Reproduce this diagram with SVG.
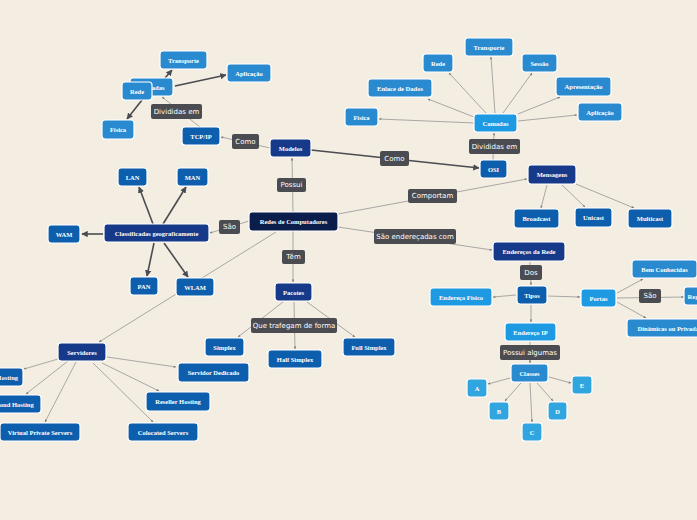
<svg xmlns="http://www.w3.org/2000/svg" width="697" height="520" viewBox="0 0 697 520">
<style>
.n rect{stroke:#fff;stroke-width:1.2;rx:3}
.n text{font-family:"Liberation Serif",serif;font-weight:bold;font-size:6.5px;fill:#fff;text-anchor:middle;dominant-baseline:central}
.d0 rect{fill:#0b1d4a}.d1 rect{fill:#16398a}.d2 rect{fill:#0d5fae}.d3 rect{fill:#2a8ad0}.d4 rect{fill:#1e9ae2}.d5 rect{fill:#31a5df}
.l rect{fill:#4b4c51;rx:2}
.l text{font-family:"DejaVu Sans",sans-serif;font-size:7px;fill:#fff;text-anchor:middle;dominant-baseline:central}
.e line{stroke:#8a8a8a;stroke-width:0.7;marker-end:url(#a)}
.e line.b{stroke:#4b4c51;stroke-width:1.6;marker-end:url(#ab)}
</style>
<defs>
<marker id="a" viewBox="0 0 10 10" refX="9" refY="5" markerWidth="4" markerHeight="4" orient="auto"><path d="M0,1L10,5L0,9z" fill="#777"/></marker>
<marker id="ab" viewBox="0 0 10 10" refX="9" refY="5" markerWidth="4" markerHeight="4" orient="auto"><path d="M0,0L10,5L0,10z" fill="#4b4c51"/></marker>
</defs>
<rect width="697" height="520" fill="#f3ede2"/>
<g class="e" id="connectors">
<line x1="293" y1="212" x2="292" y2="158"/>
<line x1="270" y1="148" x2="221" y2="137"/>
<line x1="311" y1="150" x2="479" y2="168" class="b"/>
<line x1="200" y1="127" x2="162" y2="97"/>
<line x1="175" y1="86" x2="226" y2="75" class="b"/>
<line x1="165" y1="78" x2="172" y2="70" class="b"/>
<line x1="142" y1="100" x2="127" y2="119" class="b"/>
<line x1="249" y1="221" x2="210" y2="233"/>
<line x1="153" y1="224" x2="139" y2="187" class="b"/>
<line x1="163" y1="224" x2="186" y2="187" class="b"/>
<line x1="103" y1="234" x2="82" y2="234" class="b"/>
<line x1="154" y1="243" x2="147" y2="276" class="b"/>
<line x1="164" y1="243" x2="188" y2="277" class="b"/>
<line x1="293" y1="231" x2="293" y2="282"/>
<line x1="276" y1="232" x2="99" y2="342"/>
<line x1="338" y1="214" x2="527" y2="179"/>
<line x1="338" y1="227" x2="492" y2="250"/>
<line x1="493" y1="160" x2="494" y2="133"/>
<line x1="475" y1="123" x2="379" y2="119"/>
<line x1="474" y1="117" x2="428" y2="99"/>
<line x1="486" y1="113" x2="449" y2="73"/>
<line x1="495" y1="113" x2="491" y2="57"/>
<line x1="503" y1="113" x2="532" y2="73"/>
<line x1="518" y1="114" x2="560" y2="97"/>
<line x1="518" y1="121" x2="577" y2="115"/>
<line x1="547" y1="185" x2="541" y2="208"/>
<line x1="562" y1="185" x2="585" y2="207"/>
<line x1="576" y1="184" x2="634" y2="208"/>
<line x1="530" y1="262" x2="531" y2="285"/>
<line x1="516" y1="295" x2="493" y2="297"/>
<line x1="548" y1="296" x2="580" y2="297"/>
<line x1="531" y1="305" x2="531" y2="322"/>
<line x1="617" y1="293" x2="643" y2="279"/>
<line x1="617" y1="298" x2="684" y2="297"/>
<line x1="617" y1="302" x2="646" y2="318"/>
<line x1="530" y1="342" x2="530" y2="363"/>
<line x1="510" y1="378" x2="488" y2="384"/>
<line x1="521" y1="383" x2="505" y2="401"/>
<line x1="530" y1="383" x2="532" y2="422"/>
<line x1="537" y1="383" x2="553" y2="401"/>
<line x1="549" y1="377" x2="571" y2="383"/>
<line x1="283" y1="302" x2="238" y2="337"/>
<line x1="294" y1="302" x2="295" y2="349"/>
<line x1="307" y1="302" x2="355" y2="337"/>
<line x1="58" y1="359" x2="24" y2="369"/>
<line x1="68" y1="361" x2="26" y2="394"/>
<line x1="76" y1="362" x2="45" y2="422"/>
<line x1="93" y1="363" x2="153" y2="422"/>
<line x1="102" y1="363" x2="159" y2="391"/>
<line x1="107" y1="357" x2="176" y2="367"/>
</g>
<g class="l">
<g id="l1"><rect x="232" y="134" width="27" height="15"/><text x="245.5" y="141.5">Como</text></g>
<g id="l2"><rect x="151" y="104" width="51" height="15"/><text x="176.5" y="111.5">Divididas em</text></g>
<g id="l3"><rect x="277" y="178" width="29" height="14"/><text x="291.5" y="185">Possui</text></g>
<g id="l4"><rect x="219" y="220" width="21" height="14"/><text x="229.5" y="227">São</text></g>
<g id="l5"><rect x="282" y="250" width="23" height="14"/><text x="293.5" y="257">Têm</text></g>
<g id="l6"><rect x="380" y="151" width="29" height="15"/><text x="394.5" y="158.5">Como</text></g>
<g id="l7"><rect x="469" y="139" width="51" height="15"/><text x="494.5" y="146.5">Divididas em</text></g>
<g id="l8"><rect x="408" y="189" width="49" height="14"/><text x="432.5" y="196">Comportam</text></g>
<g id="l9"><rect x="374" y="229" width="82" height="15"/><text x="415" y="236.5">São endereçadas com</text></g>
<g id="l10"><rect x="520" y="265" width="22" height="15"/><text x="531" y="272.5">Dos</text></g>
<g id="l11"><rect x="639" y="289" width="22" height="14"/><text x="650" y="296">São</text></g>
<g id="l12"><rect x="500" y="345" width="60" height="15"/><text x="530" y="352.5">Possui algumas</text></g>
<g id="l13"><rect x="251" y="318" width="86" height="15"/><text x="294" y="325.5">Que trafegam de forma</text></g>
</g>
<g class="n">
<g id="n1" class="d3"><rect x="130" y="78" width="43" height="18"/><text x="151.5" y="87">Camadas</text></g>
<g id="n2" class="d3"><rect x="122" y="82" width="30" height="18"/><text x="137" y="91">Rede</text></g>
<g id="n3" class="d3"><rect x="160" y="51" width="47" height="18"/><text x="183.5" y="60">Transporte</text></g>
<g id="n4" class="d3"><rect x="227" y="64" width="44" height="18"/><text x="249" y="73">Aplicação</text></g>
<g id="n5" class="d3"><rect x="102" y="120" width="32" height="19"/><text x="118" y="129.5">Física</text></g>
<g id="n6" class="d2"><rect x="182" y="127" width="38" height="18"/><text x="201" y="136">TCP/IP</text></g>
<g id="n7" class="d1"><rect x="270" y="139" width="41" height="18"/><text x="290.5" y="148">Modelos</text></g>
<g id="n8" class="d0"><rect x="249" y="212" width="89" height="19"/><text x="293.5" y="221.5">Redes de Computadores</text></g>
<g id="n9" class="d1"><rect x="104" y="224" width="105" height="18"/><text x="156.5" y="233">Classificadas geograficamente</text></g>
<g id="n10" class="d2"><rect x="118" y="168" width="29" height="18"/><text x="132.5" y="177">LAN</text></g>
<g id="n11" class="d2"><rect x="177" y="168" width="31" height="18"/><text x="192.5" y="177">MAN</text></g>
<g id="n12" class="d2"><rect x="48" y="225" width="32" height="18"/><text x="64" y="234">WAM</text></g>
<g id="n13" class="d2"><rect x="130" y="277" width="28" height="18"/><text x="144" y="286">PAN</text></g>
<g id="n14" class="d2"><rect x="176" y="278" width="38" height="18"/><text x="195" y="287">WLAM</text></g>
<g id="n15" class="d1"><rect x="275" y="283" width="37" height="18"/><text x="293.5" y="292">Pacotes</text></g>
<g id="n16" class="d2"><rect x="205" y="338" width="39" height="18"/><text x="224.5" y="347">Simplex</text></g>
<g id="n17" class="d2"><rect x="268" y="350" width="54" height="18"/><text x="295" y="359">Half Simplex</text></g>
<g id="n18" class="d2"><rect x="343" y="338" width="52" height="18"/><text x="369" y="347">Full Simplex</text></g>
<g id="n19" class="d1"><rect x="58" y="343" width="48" height="18"/><text x="82" y="352">Servidores</text></g>
<g id="n20" class="d2"><rect x="-30" y="368" width="53" height="18"/><text x="-3.5" y="377">Shared Hosting</text></g>
<g id="n21" class="d2"><rect x="-14" y="395" width="55" height="18"/><text x="13.5" y="404">Cloud Hosting</text></g>
<g id="n22" class="d2"><rect x="0" y="423" width="80" height="18"/><text x="40" y="432">Virtual Private Servers</text></g>
<g id="n23" class="d2"><rect x="128" y="423" width="70" height="18"/><text x="163" y="432">Colocated Servers</text></g>
<g id="n24" class="d2"><rect x="146" y="392" width="64" height="19"/><text x="178" y="401.5">Reseller Hosting</text></g>
<g id="n25" class="d2"><rect x="178" y="363" width="71" height="19"/><text x="213.5" y="372.5">Servidor Dedicado</text></g>
<g id="n26" class="d4"><rect x="474" y="114" width="43" height="18"/><text x="495.5" y="123">Camadas</text></g>
<g id="n27" class="d2"><rect x="480" y="160" width="27" height="18"/><text x="493.5" y="169">OSI</text></g>
<g id="n28" class="d3"><rect x="345" y="108" width="33" height="18"/><text x="361.5" y="117">Física</text></g>
<g id="n29" class="d3"><rect x="368" y="79" width="64" height="18"/><text x="400" y="88">Enlace de Dados</text></g>
<g id="n30" class="d3"><rect x="423" y="54" width="30" height="18"/><text x="438" y="63">Rede</text></g>
<g id="n31" class="d3"><rect x="465" y="38" width="48" height="18"/><text x="489" y="47">Transporte</text></g>
<g id="n32" class="d3"><rect x="522" y="54" width="35" height="18"/><text x="539.5" y="63">Sessão</text></g>
<g id="n33" class="d3"><rect x="556" y="77" width="55" height="19"/><text x="583.5" y="86.5">Apresentação</text></g>
<g id="n34" class="d3"><rect x="578" y="103" width="44" height="18"/><text x="600" y="112">Aplicação</text></g>
<g id="n35" class="d1"><rect x="528" y="165" width="48" height="19"/><text x="552" y="174.5">Mensagens</text></g>
<g id="n36" class="d2"><rect x="514" y="209" width="45" height="19"/><text x="536.5" y="218.5">Broadcast</text></g>
<g id="n37" class="d2"><rect x="575" y="208" width="37" height="19"/><text x="593.5" y="217.5">Unicast</text></g>
<g id="n38" class="d2"><rect x="628" y="209" width="44" height="19"/><text x="650" y="218.5">Multicast</text></g>
<g id="n39" class="d1"><rect x="493" y="242" width="72" height="19"/><text x="529" y="251.5">Endereços da Rede</text></g>
<g id="n40" class="d2"><rect x="517" y="286" width="30" height="18"/><text x="532" y="295">Tipos</text></g>
<g id="n41" class="d4"><rect x="430" y="288" width="62" height="18"/><text x="461" y="297">Endereço Físico</text></g>
<g id="n42" class="d4"><rect x="581" y="289" width="35" height="18"/><text x="598.5" y="298">Portas</text></g>
<g id="n43" class="d3"><rect x="632" y="260" width="65" height="18"/><text x="664.5" y="269">Bem Conhecidas</text></g>
<g id="n44" class="d3"><rect x="684" y="287" width="40" height="18"/><text x="704" y="296">Registradas</text></g>
<g id="n45" class="d3"><rect x="627" y="319" width="85" height="18"/><text x="669.5" y="328">Dinâmicas ou Privadas</text></g>
<g id="n46" class="d4"><rect x="505" y="323" width="51" height="18"/><text x="530.5" y="332">Endereço IP</text></g>
<g id="n47" class="d3"><rect x="511" y="364" width="37" height="18"/><text x="529.5" y="373">Classes</text></g>
<g id="n48" class="d5"><rect x="467" y="379" width="20" height="18"/><text x="477" y="388">A</text></g>
<g id="n49" class="d5"><rect x="489" y="402" width="20" height="18"/><text x="499" y="411">B</text></g>
<g id="n50" class="d5"><rect x="522" y="423" width="20" height="18"/><text x="532" y="432">C</text></g>
<g id="n51" class="d5"><rect x="548" y="402" width="19" height="18"/><text x="557.5" y="411">D</text></g>
<g id="n52" class="d5"><rect x="572" y="376" width="20" height="18"/><text x="582" y="385">E</text></g>
</g>
</svg>
